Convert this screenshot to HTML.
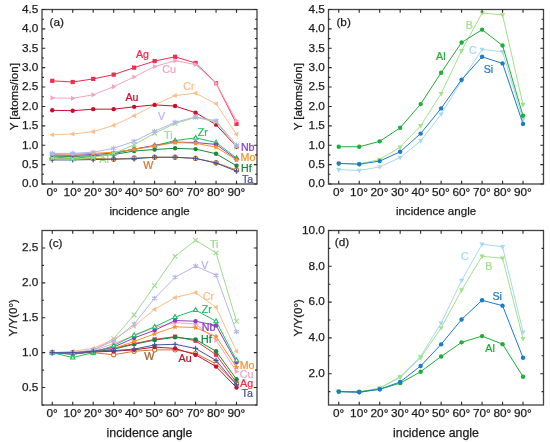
<!DOCTYPE html>
<html><head><meta charset="utf-8"><title>Sputter yield vs incidence angle</title>
<style>html,body{margin:0;padding:0;background:#fff;overflow:hidden}svg{display:block}</style>
</head><body>
<svg width="550" height="442" viewBox="0 0 550 442" font-family="'Liberation Sans', Arial, sans-serif" stroke-width="0.25"><rect width="550" height="442" fill="#fff"/>
<clipPath id="cpa"><rect x="42" y="9.5" width="215" height="174.5"/></clipPath>
<clipPath id="cpb"><rect x="328.5" y="9.5" width="215" height="174.5"/></clipPath>
<clipPath id="cpc"><rect x="42" y="230.5" width="215" height="174.5"/></clipPath>
<clipPath id="cpd"><rect x="328.5" y="230.5" width="215" height="174.5"/></clipPath>
<g>
<text transform="translate(99.3 163) scale(0.97 1)" font-size="11.0" fill="#9adc8e" stroke="#9adc8e">Al</text>
</g>
<g clip-path="url(#cpa)">
<polyline points="52.24,134.75 72.71,133.98 93.19,131.65 113.67,125.45 134.14,115.75 154.62,104.89 175.1,95.59 195.57,93.26 216.05,103.73 236.52,134.36" fill="none" stroke="#f8bf8c" stroke-width="1.0" stroke-linejoin="round"/>
<polygon points="49.36,134.75 53.96,132.16 53.96,137.34" fill="#f8bf8c"/>
<polygon points="69.84,133.98 74.44,131.39 74.44,136.56" fill="#f8bf8c"/>
<polygon points="90.32,131.65 94.92,129.06 94.92,134.24" fill="#f8bf8c"/>
<polygon points="110.79,125.45 115.39,122.86 115.39,128.03" fill="#f8bf8c"/>
<polygon points="131.27,115.75 135.87,113.16 135.87,118.34" fill="#f8bf8c"/>
<polygon points="151.74,104.89 156.34,102.31 156.34,107.48" fill="#f8bf8c"/>
<polygon points="172.22,95.59 176.82,93 176.82,98.17" fill="#f8bf8c"/>
<polygon points="192.7,93.26 197.3,90.67 197.3,95.85" fill="#f8bf8c"/>
<polygon points="213.17,103.73 217.77,101.14 217.77,106.32" fill="#f8bf8c"/>
<polygon points="233.65,134.36 238.25,131.78 238.25,136.95" fill="#f8bf8c"/>
<polyline points="52.24,158.41 72.71,158.41 93.19,158.41 113.67,159.18 134.14,158.02 154.62,157.24 175.1,157.24 195.57,158.41 216.05,162.67 236.52,170.04" fill="none" stroke="#d4762c" stroke-width="1.0" stroke-linejoin="round"/>
<circle cx="52.24" cy="158.41" r="2.1" fill="#fff" stroke="#d4762c" stroke-width="1.1"/>
<circle cx="72.71" cy="158.41" r="2.1" fill="#fff" stroke="#d4762c" stroke-width="1.1"/>
<circle cx="93.19" cy="158.41" r="2.1" fill="#fff" stroke="#d4762c" stroke-width="1.1"/>
<circle cx="113.67" cy="159.18" r="2.1" fill="#fff" stroke="#d4762c" stroke-width="1.1"/>
<circle cx="134.14" cy="158.02" r="2.1" fill="#fff" stroke="#d4762c" stroke-width="1.1"/>
<circle cx="154.62" cy="157.24" r="2.1" fill="#fff" stroke="#d4762c" stroke-width="1.1"/>
<circle cx="175.1" cy="157.24" r="2.1" fill="#fff" stroke="#d4762c" stroke-width="1.1"/>
<circle cx="195.57" cy="158.41" r="2.1" fill="#fff" stroke="#d4762c" stroke-width="1.1"/>
<circle cx="216.05" cy="162.67" r="2.1" fill="#fff" stroke="#d4762c" stroke-width="1.1"/>
<circle cx="236.52" cy="170.04" r="2.1" fill="#fff" stroke="#d4762c" stroke-width="1.1"/>
<polyline points="52.24,159.96 72.71,159.96 93.19,159.57 113.67,159.18 134.14,158.79 154.62,157.24 175.1,157.24 195.57,158.41 216.05,163.06 236.52,171.2" fill="none" stroke="#44539a" stroke-width="1.0" stroke-linejoin="round"/>
<path d="M49.64 159.96H54.84M52.24 157.36V162.56" stroke="#44539a" stroke-width="1.2"/>
<path d="M70.11 159.96H75.31M72.71 157.36V162.56" stroke="#44539a" stroke-width="1.2"/>
<path d="M90.59 159.57H95.79M93.19 156.97V162.17" stroke="#44539a" stroke-width="1.2"/>
<path d="M111.07 159.18H116.27M113.67 156.58V161.78" stroke="#44539a" stroke-width="1.2"/>
<path d="M131.54 158.79H136.74M134.14 156.19V161.39" stroke="#44539a" stroke-width="1.2"/>
<path d="M152.02 157.24H157.22M154.62 154.64V159.84" stroke="#44539a" stroke-width="1.2"/>
<path d="M172.5 157.24H177.7M175.1 154.64V159.84" stroke="#44539a" stroke-width="1.2"/>
<path d="M192.97 158.41H198.17M195.57 155.81V161.01" stroke="#44539a" stroke-width="1.2"/>
<path d="M213.45 163.06H218.65M216.05 160.46V165.66" stroke="#44539a" stroke-width="1.2"/>
<path d="M233.92 171.2H239.12M236.52 168.6V173.8" stroke="#44539a" stroke-width="1.2"/>
<polyline points="52.24,156.08 72.71,156.47 93.19,155.69 113.67,154.53 134.14,151.04 154.62,149.49 175.1,148.32 195.57,149.1 216.05,153.75 236.52,165.77" fill="none" stroke="#16893d" stroke-width="1.0" stroke-linejoin="round"/>
<circle cx="52.24" cy="156.08" r="2.2" fill="#16893d"/>
<circle cx="72.71" cy="156.47" r="2.2" fill="#16893d"/>
<circle cx="93.19" cy="155.69" r="2.2" fill="#16893d"/>
<circle cx="113.67" cy="154.53" r="2.2" fill="#16893d"/>
<circle cx="134.14" cy="151.04" r="2.2" fill="#16893d"/>
<circle cx="154.62" cy="149.49" r="2.2" fill="#16893d"/>
<circle cx="175.1" cy="148.32" r="2.2" fill="#16893d"/>
<circle cx="195.57" cy="149.1" r="2.2" fill="#16893d"/>
<circle cx="216.05" cy="153.75" r="2.2" fill="#16893d"/>
<circle cx="236.52" cy="165.77" r="2.2" fill="#16893d"/>
<polyline points="52.24,156.86 72.71,158.41 93.19,156.47 113.67,153.75 134.14,149.1 154.62,145.61 175.1,140.57 195.57,137.85 216.05,142.51 236.52,158.02" fill="none" stroke="#1fc062" stroke-width="1.0" stroke-linejoin="round"/>
<polygon points="52.24,154.44 50.06,158.3 54.41,158.3" fill="#fff" stroke="#1fc062" stroke-width="1.1"/>
<polygon points="72.71,155.99 70.54,159.86 74.89,159.86" fill="#fff" stroke="#1fc062" stroke-width="1.1"/>
<polygon points="93.19,154.05 91.02,157.92 95.36,157.92" fill="#fff" stroke="#1fc062" stroke-width="1.1"/>
<polygon points="113.67,151.34 111.49,155.2 115.84,155.2" fill="#fff" stroke="#1fc062" stroke-width="1.1"/>
<polygon points="134.14,146.69 131.97,150.55 136.32,150.55" fill="#fff" stroke="#1fc062" stroke-width="1.1"/>
<polygon points="154.62,143.2 152.45,147.06 156.79,147.06" fill="#fff" stroke="#1fc062" stroke-width="1.1"/>
<polygon points="175.1,138.15 172.92,142.02 177.27,142.02" fill="#fff" stroke="#1fc062" stroke-width="1.1"/>
<polygon points="195.57,135.44 193.4,139.3 197.74,139.3" fill="#fff" stroke="#1fc062" stroke-width="1.1"/>
<polygon points="216.05,140.09 213.87,143.96 218.22,143.96" fill="#fff" stroke="#1fc062" stroke-width="1.1"/>
<polygon points="236.52,155.6 234.35,159.47 238.7,159.47" fill="#fff" stroke="#1fc062" stroke-width="1.1"/>
<polyline points="52.24,154.92 72.71,155.3 93.19,154.53 113.67,152.98 134.14,149.1 154.62,145.61 175.1,142.12 195.57,142.51 216.05,144.45 236.52,159.18" fill="none" stroke="#8a40c2" stroke-width="1.0" stroke-linejoin="round"/>
<circle cx="52.24" cy="154.92" r="2.2" fill="#8a40c2"/>
<circle cx="72.71" cy="155.3" r="2.2" fill="#8a40c2"/>
<circle cx="93.19" cy="154.53" r="2.2" fill="#8a40c2"/>
<circle cx="113.67" cy="152.98" r="2.2" fill="#8a40c2"/>
<circle cx="134.14" cy="149.1" r="2.2" fill="#8a40c2"/>
<circle cx="154.62" cy="145.61" r="2.2" fill="#8a40c2"/>
<circle cx="175.1" cy="142.12" r="2.2" fill="#8a40c2"/>
<circle cx="195.57" cy="142.51" r="2.2" fill="#8a40c2"/>
<circle cx="216.05" cy="144.45" r="2.2" fill="#8a40c2"/>
<circle cx="236.52" cy="159.18" r="2.2" fill="#8a40c2"/>
<polyline points="52.24,153.75 72.71,154.14 93.19,153.37 113.67,152.2 134.14,149.49 154.62,146 175.1,142.51 195.57,143.28 216.05,147.16 236.52,159.96" fill="none" stroke="#f7922c" stroke-width="1.0" stroke-linejoin="round"/>
<polygon points="52.24,150.65 53.06,152.62 55.19,152.79 53.57,154.19 54.06,156.27 52.24,155.15 50.41,156.27 50.91,154.19 49.29,152.79 51.42,152.62" fill="#f7922c"/>
<polygon points="72.71,151.04 73.54,153.01 75.67,153.18 74.04,154.57 74.54,156.65 72.71,155.54 70.89,156.65 71.39,154.57 69.76,153.18 71.89,153.01" fill="#f7922c"/>
<polygon points="93.19,150.26 94.01,152.24 96.14,152.41 94.52,153.8 95.02,155.88 93.19,154.76 91.37,155.88 91.86,153.8 90.24,152.41 92.37,152.24" fill="#f7922c"/>
<polygon points="113.67,149.1 114.49,151.07 116.62,151.24 115,152.63 115.49,154.71 113.67,153.6 111.84,154.71 112.34,152.63 110.71,151.24 112.85,151.07" fill="#f7922c"/>
<polygon points="134.14,146.38 134.96,148.36 137.1,148.53 135.47,149.92 135.97,152 134.14,150.89 132.32,152 132.81,149.92 131.19,148.53 133.32,148.36" fill="#f7922c"/>
<polygon points="154.62,142.89 155.44,144.87 157.57,145.04 155.95,146.43 156.44,148.51 154.62,147.4 152.79,148.51 153.29,146.43 151.67,145.04 153.8,144.87" fill="#f7922c"/>
<polygon points="175.1,139.4 175.92,141.38 178.05,141.55 176.42,142.94 176.92,145.02 175.1,143.91 173.27,145.02 173.77,142.94 172.14,141.55 174.27,141.38" fill="#f7922c"/>
<polygon points="195.57,140.18 196.39,142.15 198.52,142.32 196.9,143.72 197.4,145.8 195.57,144.68 193.75,145.8 194.24,143.72 192.62,142.32 194.75,142.15" fill="#f7922c"/>
<polygon points="216.05,144.06 216.87,146.03 219,146.2 217.38,147.59 217.87,149.67 216.05,148.56 214.22,149.67 214.72,147.59 213.09,146.2 215.23,146.03" fill="#f7922c"/>
<polygon points="236.52,156.85 237.35,158.83 239.48,159 237.85,160.39 238.35,162.47 236.52,161.36 234.7,162.47 235.19,160.39 233.57,159 235.7,158.83" fill="#f7922c"/>
<polyline points="52.24,110.32 72.71,110.71 93.19,109.16 113.67,109.16 134.14,106.83 154.62,104.89 175.1,106.06 195.57,112.65 216.05,124.67 236.52,146.77" fill="none" stroke="#c8102e" stroke-width="1.0" stroke-linejoin="round"/>
<circle cx="52.24" cy="110.32" r="2.2" fill="#c8102e"/>
<circle cx="72.71" cy="110.71" r="2.2" fill="#c8102e"/>
<circle cx="93.19" cy="109.16" r="2.2" fill="#c8102e"/>
<circle cx="113.67" cy="109.16" r="2.2" fill="#c8102e"/>
<circle cx="134.14" cy="106.83" r="2.2" fill="#c8102e"/>
<circle cx="154.62" cy="104.89" r="2.2" fill="#c8102e"/>
<circle cx="175.1" cy="106.06" r="2.2" fill="#c8102e"/>
<circle cx="195.57" cy="112.65" r="2.2" fill="#c8102e"/>
<circle cx="216.05" cy="124.67" r="2.2" fill="#c8102e"/>
<circle cx="236.52" cy="146.77" r="2.2" fill="#c8102e"/>
<polyline points="52.24,158.41 72.71,159.18 93.19,157.63 113.67,153.37 134.14,144.83 154.62,133.2 175.1,123.51 195.57,117.3 216.05,121.96 236.52,146.77" fill="none" stroke="#9adc8e" stroke-width="1.0" stroke-linejoin="round"/>
<path d="M49.94 156.11L54.54 160.71M49.94 160.71L54.54 156.11" stroke="#9adc8e" stroke-width="1.1"/>
<path d="M70.41 156.88L75.01 161.48M70.41 161.48L75.01 156.88" stroke="#9adc8e" stroke-width="1.1"/>
<path d="M90.89 155.33L95.49 159.93M90.89 159.93L95.49 155.33" stroke="#9adc8e" stroke-width="1.1"/>
<path d="M111.37 151.07L115.97 155.67M111.37 155.67L115.97 151.07" stroke="#9adc8e" stroke-width="1.1"/>
<path d="M131.84 142.53L136.44 147.13M131.84 147.13L136.44 142.53" stroke="#9adc8e" stroke-width="1.1"/>
<path d="M152.32 130.9L156.92 135.5M152.32 135.5L156.92 130.9" stroke="#9adc8e" stroke-width="1.1"/>
<path d="M172.8 121.21L177.4 125.81M172.8 125.81L177.4 121.21" stroke="#9adc8e" stroke-width="1.1"/>
<path d="M193.27 115L197.87 119.6M193.27 119.6L197.87 115" stroke="#9adc8e" stroke-width="1.1"/>
<path d="M213.75 119.66L218.35 124.26M213.75 124.26L218.35 119.66" stroke="#9adc8e" stroke-width="1.1"/>
<path d="M234.22 144.47L238.82 149.07M234.22 149.07L238.82 144.47" stroke="#9adc8e" stroke-width="1.1"/>
<polyline points="52.24,153.37 72.71,153.37 93.19,152.2 113.67,148.32 134.14,141.34 154.62,131.26 175.1,122.34 195.57,116.91 216.05,120.79 236.52,145.22" fill="none" stroke="#b3b6ee" stroke-width="1.0" stroke-linejoin="round"/>
<path d="M49.74 151.87L54.74 154.87M49.74 154.87L54.74 151.87M52.24 150.87V155.87" stroke="#b3b6ee" stroke-width="1.2"/>
<path d="M70.21 151.87L75.21 154.87M70.21 154.87L75.21 151.87M72.71 150.87V155.87" stroke="#b3b6ee" stroke-width="1.2"/>
<path d="M90.69 150.7L95.69 153.7M90.69 153.7L95.69 150.7M93.19 149.7V154.7" stroke="#b3b6ee" stroke-width="1.2"/>
<path d="M111.17 146.82L116.17 149.82M111.17 149.82L116.17 146.82M113.67 145.82V150.82" stroke="#b3b6ee" stroke-width="1.2"/>
<path d="M131.64 139.84L136.64 142.84M131.64 142.84L136.64 139.84M134.14 138.84V143.84" stroke="#b3b6ee" stroke-width="1.2"/>
<path d="M152.12 129.76L157.12 132.76M152.12 132.76L157.12 129.76M154.62 128.76V133.76" stroke="#b3b6ee" stroke-width="1.2"/>
<path d="M172.6 120.84L177.6 123.84M172.6 123.84L177.6 120.84M175.1 119.84V124.84" stroke="#b3b6ee" stroke-width="1.2"/>
<path d="M193.07 115.41L198.07 118.41M193.07 118.41L198.07 115.41M195.57 114.41V119.41" stroke="#b3b6ee" stroke-width="1.2"/>
<path d="M213.55 119.29L218.55 122.29M213.55 122.29L218.55 119.29M216.05 118.29V123.29" stroke="#b3b6ee" stroke-width="1.2"/>
<path d="M234.02 143.72L239.02 146.72M234.02 146.72L239.02 143.72M236.52 142.72V147.72" stroke="#b3b6ee" stroke-width="1.2"/>
<polyline points="52.24,80.85 72.71,82.01 93.19,78.91 113.67,74.65 134.14,67.67 154.62,61.07 175.1,56.81 195.57,63.01 216.05,83.18 236.52,123.89" fill="none" stroke="#f42a4e" stroke-width="1.0" stroke-linejoin="round"/>
<rect x="50.14" y="78.75" width="4.2" height="4.2" fill="#f42a4e"/>
<rect x="70.61" y="79.91" width="4.2" height="4.2" fill="#f42a4e"/>
<rect x="91.09" y="76.81" width="4.2" height="4.2" fill="#f42a4e"/>
<rect x="111.57" y="72.55" width="4.2" height="4.2" fill="#f42a4e"/>
<rect x="132.04" y="65.57" width="4.2" height="4.2" fill="#f42a4e"/>
<rect x="152.52" y="58.97" width="4.2" height="4.2" fill="#f42a4e"/>
<rect x="173" y="54.71" width="4.2" height="4.2" fill="#f42a4e"/>
<rect x="193.47" y="60.91" width="4.2" height="4.2" fill="#f42a4e"/>
<rect x="213.95" y="81.08" width="4.2" height="4.2" fill="#f42a4e"/>
<rect x="234.42" y="121.79" width="4.2" height="4.2" fill="#f42a4e"/>
<polyline points="52.24,97.91 72.71,98.3 93.19,94.81 113.67,86.67 134.14,76.97 154.62,66.5 175.1,60.69 195.57,64.56 216.05,83.18 236.52,120.79" fill="none" stroke="#f7a3bf" stroke-width="1.0" stroke-linejoin="round"/>
<polygon points="55.11,97.91 50.51,95.33 50.51,100.5" fill="#f7a3bf"/>
<polygon points="75.59,98.3 70.99,95.71 70.99,100.89" fill="#f7a3bf"/>
<polygon points="96.07,94.81 91.47,92.22 91.47,97.4" fill="#f7a3bf"/>
<polygon points="116.54,86.67 111.94,84.08 111.94,89.26" fill="#f7a3bf"/>
<polygon points="137.02,76.97 132.42,74.39 132.42,79.56" fill="#f7a3bf"/>
<polygon points="157.49,66.5 152.89,63.92 152.89,69.09" fill="#f7a3bf"/>
<polygon points="177.97,60.69 173.37,58.1 173.37,63.27" fill="#f7a3bf"/>
<polygon points="198.45,64.56 193.85,61.98 193.85,67.15" fill="#f7a3bf"/>
<polygon points="218.92,83.18 214.32,80.59 214.32,85.77" fill="#f7a3bf"/>
<polygon points="239.4,120.79 234.8,118.2 234.8,123.38" fill="#f7a3bf"/>
</g>
<g clip-path="url(#cpc)">
<polyline points="52.24,352.65 72.71,354.74 93.19,350.56 113.67,338.69 134.14,314.96 154.62,285.64 175.1,256.33 195.57,240.27 216.05,252.84 236.52,321.24" fill="none" stroke="#9adc8e" stroke-width="1.0" stroke-linejoin="round"/>
<path d="M49.94 350.35L54.54 354.95M49.94 354.95L54.54 350.35" stroke="#9adc8e" stroke-width="1.1"/>
<path d="M70.41 352.44L75.01 357.04M70.41 357.04L75.01 352.44" stroke="#9adc8e" stroke-width="1.1"/>
<path d="M90.89 348.26L95.49 352.86M90.89 352.86L95.49 348.26" stroke="#9adc8e" stroke-width="1.1"/>
<path d="M111.37 336.39L115.97 340.99M111.37 340.99L115.97 336.39" stroke="#9adc8e" stroke-width="1.1"/>
<path d="M131.84 312.66L136.44 317.26M131.84 317.26L136.44 312.66" stroke="#9adc8e" stroke-width="1.1"/>
<path d="M152.32 283.34L156.92 287.94M152.32 287.94L156.92 283.34" stroke="#9adc8e" stroke-width="1.1"/>
<path d="M172.8 254.03L177.4 258.63M172.8 258.63L177.4 254.03" stroke="#9adc8e" stroke-width="1.1"/>
<path d="M193.27 237.97L197.87 242.57M193.27 242.57L197.87 237.97" stroke="#9adc8e" stroke-width="1.1"/>
<path d="M213.75 250.54L218.35 255.14M213.75 255.14L218.35 250.54" stroke="#9adc8e" stroke-width="1.1"/>
<path d="M234.22 318.94L238.82 323.54M234.22 323.54L238.82 318.94" stroke="#9adc8e" stroke-width="1.1"/>
<polyline points="52.24,352.65 72.71,351.25 93.19,348.46 113.67,339.39 134.14,326.13 154.62,309.37 175.1,297.51 195.57,292.62 216.05,307.28 236.52,351.25" fill="none" stroke="#f8bf8c" stroke-width="1.0" stroke-linejoin="round"/>
<polygon points="49.36,352.65 53.96,350.06 53.96,355.24" fill="#f8bf8c"/>
<polygon points="69.84,351.25 74.44,348.67 74.44,353.84" fill="#f8bf8c"/>
<polygon points="90.32,348.46 94.92,345.87 94.92,351.05" fill="#f8bf8c"/>
<polygon points="110.79,339.39 115.39,336.8 115.39,341.98" fill="#f8bf8c"/>
<polygon points="131.27,326.13 135.87,323.54 135.87,328.71" fill="#f8bf8c"/>
<polygon points="151.74,309.37 156.34,306.79 156.34,311.96" fill="#f8bf8c"/>
<polygon points="172.22,297.51 176.82,294.92 176.82,300.1" fill="#f8bf8c"/>
<polygon points="192.7,292.62 197.3,290.03 197.3,295.21" fill="#f8bf8c"/>
<polygon points="213.17,307.28 217.77,304.69 217.77,309.87" fill="#f8bf8c"/>
<polygon points="233.65,351.25 238.25,348.67 238.25,353.84" fill="#f8bf8c"/>
<polyline points="52.24,352.65 72.71,353.35 93.19,351.25 113.67,348.46 134.14,343.58 154.62,339.39 175.1,336.6 195.57,340.78 216.05,354.74 236.52,382.66" fill="none" stroke="#f42a4e" stroke-width="1.0" stroke-linejoin="round"/>
<rect x="50.14" y="350.55" width="4.2" height="4.2" fill="#f42a4e"/>
<rect x="70.61" y="351.25" width="4.2" height="4.2" fill="#f42a4e"/>
<rect x="91.09" y="349.15" width="4.2" height="4.2" fill="#f42a4e"/>
<rect x="111.57" y="346.36" width="4.2" height="4.2" fill="#f42a4e"/>
<rect x="132.04" y="341.48" width="4.2" height="4.2" fill="#f42a4e"/>
<rect x="152.52" y="337.29" width="4.2" height="4.2" fill="#f42a4e"/>
<rect x="173" y="334.5" width="4.2" height="4.2" fill="#f42a4e"/>
<rect x="193.47" y="338.68" width="4.2" height="4.2" fill="#f42a4e"/>
<rect x="213.95" y="352.64" width="4.2" height="4.2" fill="#f42a4e"/>
<rect x="234.42" y="380.56" width="4.2" height="4.2" fill="#f42a4e"/>
<polyline points="52.24,352.65 72.71,353.35 93.19,350.56 113.67,343.58 134.14,335.9 154.62,327.52 175.1,322.64 195.57,324.03 216.05,340.09 236.52,371.5" fill="none" stroke="#f7a3bf" stroke-width="1.0" stroke-linejoin="round"/>
<polygon points="55.11,352.65 50.51,350.06 50.51,355.24" fill="#f7a3bf"/>
<polygon points="75.59,353.35 70.99,350.76 70.99,355.94" fill="#f7a3bf"/>
<polygon points="96.07,350.56 91.47,347.97 91.47,353.14" fill="#f7a3bf"/>
<polygon points="116.54,343.58 111.94,340.99 111.94,346.16" fill="#f7a3bf"/>
<polygon points="137.02,335.9 132.42,333.31 132.42,338.49" fill="#f7a3bf"/>
<polygon points="157.49,327.52 152.89,324.93 152.89,330.11" fill="#f7a3bf"/>
<polygon points="177.97,322.64 173.37,320.05 173.37,325.22" fill="#f7a3bf"/>
<polygon points="198.45,324.03 193.85,321.44 193.85,326.62" fill="#f7a3bf"/>
<polygon points="218.92,340.09 214.32,337.5 214.32,342.67" fill="#f7a3bf"/>
<polygon points="239.4,371.5 234.8,368.91 234.8,374.08" fill="#f7a3bf"/>
<polyline points="52.24,352.65 72.71,352.65 93.19,352.65 113.67,354.74 134.14,351.25 154.62,349.86 175.1,349.86 195.57,353.35 216.05,363.82 236.52,384.06" fill="none" stroke="#d4762c" stroke-width="1.0" stroke-linejoin="round"/>
<circle cx="52.24" cy="352.65" r="2.1" fill="#fff" stroke="#d4762c" stroke-width="1.1"/>
<circle cx="72.71" cy="352.65" r="2.1" fill="#fff" stroke="#d4762c" stroke-width="1.1"/>
<circle cx="93.19" cy="352.65" r="2.1" fill="#fff" stroke="#d4762c" stroke-width="1.1"/>
<circle cx="113.67" cy="354.74" r="2.1" fill="#fff" stroke="#d4762c" stroke-width="1.1"/>
<circle cx="134.14" cy="351.25" r="2.1" fill="#fff" stroke="#d4762c" stroke-width="1.1"/>
<circle cx="154.62" cy="349.86" r="2.1" fill="#fff" stroke="#d4762c" stroke-width="1.1"/>
<circle cx="175.1" cy="349.86" r="2.1" fill="#fff" stroke="#d4762c" stroke-width="1.1"/>
<circle cx="195.57" cy="353.35" r="2.1" fill="#fff" stroke="#d4762c" stroke-width="1.1"/>
<circle cx="216.05" cy="363.82" r="2.1" fill="#fff" stroke="#d4762c" stroke-width="1.1"/>
<circle cx="236.52" cy="384.06" r="2.1" fill="#fff" stroke="#d4762c" stroke-width="1.1"/>
<polyline points="52.24,352.65 72.71,353.35 93.19,351.95 113.67,351.25 134.14,349.86 154.62,347.07 175.1,348.46 195.57,354.74 216.05,366.61 236.52,387.55" fill="none" stroke="#c8102e" stroke-width="1.0" stroke-linejoin="round"/>
<circle cx="52.24" cy="352.65" r="2.2" fill="#c8102e"/>
<circle cx="72.71" cy="353.35" r="2.2" fill="#c8102e"/>
<circle cx="93.19" cy="351.95" r="2.2" fill="#c8102e"/>
<circle cx="113.67" cy="351.25" r="2.2" fill="#c8102e"/>
<circle cx="134.14" cy="349.86" r="2.2" fill="#c8102e"/>
<circle cx="154.62" cy="347.07" r="2.2" fill="#c8102e"/>
<circle cx="175.1" cy="348.46" r="2.2" fill="#c8102e"/>
<circle cx="195.57" cy="354.74" r="2.2" fill="#c8102e"/>
<circle cx="216.05" cy="366.61" r="2.2" fill="#c8102e"/>
<circle cx="236.52" cy="387.55" r="2.2" fill="#c8102e"/>
<polyline points="52.24,352.65 72.71,354.05 93.19,351.95 113.67,349.16 134.14,344.27 154.62,340.09 175.1,337.29 195.57,339.39 216.05,351.25 236.52,379.17" fill="none" stroke="#16893d" stroke-width="1.0" stroke-linejoin="round"/>
<circle cx="52.24" cy="352.65" r="2.2" fill="#16893d"/>
<circle cx="72.71" cy="354.05" r="2.2" fill="#16893d"/>
<circle cx="93.19" cy="351.95" r="2.2" fill="#16893d"/>
<circle cx="113.67" cy="349.16" r="2.2" fill="#16893d"/>
<circle cx="134.14" cy="344.27" r="2.2" fill="#16893d"/>
<circle cx="154.62" cy="340.09" r="2.2" fill="#16893d"/>
<circle cx="175.1" cy="337.29" r="2.2" fill="#16893d"/>
<circle cx="195.57" cy="339.39" r="2.2" fill="#16893d"/>
<circle cx="216.05" cy="351.25" r="2.2" fill="#16893d"/>
<circle cx="236.52" cy="379.17" r="2.2" fill="#16893d"/>
<polyline points="52.24,352.65 72.71,353.35 93.19,351.25 113.67,348.46 134.14,341.48 154.62,333.8 175.1,326.82 195.57,327.52 216.05,336.6 236.52,367.31" fill="none" stroke="#f7922c" stroke-width="1.0" stroke-linejoin="round"/>
<polygon points="52.24,349.54 53.06,351.52 55.19,351.69 53.57,353.08 54.06,355.16 52.24,354.05 50.41,355.16 50.91,353.08 49.29,351.69 51.42,351.52" fill="#f7922c"/>
<polygon points="72.71,350.24 73.54,352.22 75.67,352.39 74.04,353.78 74.54,355.86 72.71,354.75 70.89,355.86 71.39,353.78 69.76,352.39 71.89,352.22" fill="#f7922c"/>
<polygon points="93.19,348.15 94.01,350.12 96.14,350.29 94.52,351.69 95.02,353.77 93.19,352.65 91.37,353.77 91.86,351.69 90.24,350.29 92.37,350.12" fill="#f7922c"/>
<polygon points="113.67,345.36 114.49,347.33 116.62,347.5 115,348.89 115.49,350.97 113.67,349.86 111.84,350.97 112.34,348.89 110.71,347.5 112.85,347.33" fill="#f7922c"/>
<polygon points="134.14,338.38 134.96,340.35 137.1,340.52 135.47,341.91 135.97,343.99 134.14,342.88 132.32,343.99 132.81,341.91 131.19,340.52 133.32,340.35" fill="#f7922c"/>
<polygon points="154.62,330.7 155.44,332.67 157.57,332.84 155.95,334.24 156.44,336.32 154.62,335.2 152.79,336.32 153.29,334.24 151.67,332.84 153.8,332.67" fill="#f7922c"/>
<polygon points="175.1,323.72 175.92,325.69 178.05,325.86 176.42,327.26 176.92,329.34 175.1,328.22 173.27,329.34 173.77,327.26 172.14,325.86 174.27,325.69" fill="#f7922c"/>
<polygon points="195.57,324.42 196.39,326.39 198.52,326.56 196.9,327.95 197.4,330.03 195.57,328.92 193.75,330.03 194.24,327.95 192.62,326.56 194.75,326.39" fill="#f7922c"/>
<polygon points="216.05,333.49 216.87,335.47 219,335.64 217.38,337.03 217.87,339.11 216.05,337.99 214.22,339.11 214.72,337.03 213.09,335.64 215.23,335.47" fill="#f7922c"/>
<polygon points="236.52,364.2 237.35,366.18 239.48,366.35 237.85,367.74 238.35,369.82 236.52,368.71 234.7,369.82 235.19,367.74 233.57,366.35 235.7,366.18" fill="#f7922c"/>
<polyline points="52.24,352.65 72.71,354.05 93.19,351.25 113.67,347.07 134.14,337.99 154.62,330.31 175.1,320.54 195.57,321.24 216.05,325.43 236.52,362.42" fill="none" stroke="#8a40c2" stroke-width="1.0" stroke-linejoin="round"/>
<circle cx="52.24" cy="352.65" r="2.2" fill="#8a40c2"/>
<circle cx="72.71" cy="354.05" r="2.2" fill="#8a40c2"/>
<circle cx="93.19" cy="351.25" r="2.2" fill="#8a40c2"/>
<circle cx="113.67" cy="347.07" r="2.2" fill="#8a40c2"/>
<circle cx="134.14" cy="337.99" r="2.2" fill="#8a40c2"/>
<circle cx="154.62" cy="330.31" r="2.2" fill="#8a40c2"/>
<circle cx="175.1" cy="320.54" r="2.2" fill="#8a40c2"/>
<circle cx="195.57" cy="321.24" r="2.2" fill="#8a40c2"/>
<circle cx="216.05" cy="325.43" r="2.2" fill="#8a40c2"/>
<circle cx="236.52" cy="362.42" r="2.2" fill="#8a40c2"/>
<polyline points="52.24,352.65 72.71,357.54 93.19,352.65 113.67,345.67 134.14,335.2 154.62,326.82 175.1,317.05 195.57,310.07 216.05,321.24 236.52,360.33" fill="none" stroke="#1fc062" stroke-width="1.0" stroke-linejoin="round"/>
<polygon points="52.24,350.23 50.06,354.1 54.41,354.1" fill="#fff" stroke="#1fc062" stroke-width="1.1"/>
<polygon points="72.71,355.12 70.54,358.99 74.89,358.99" fill="#fff" stroke="#1fc062" stroke-width="1.1"/>
<polygon points="93.19,350.23 91.02,354.1 95.36,354.1" fill="#fff" stroke="#1fc062" stroke-width="1.1"/>
<polygon points="113.67,343.25 111.49,347.12 115.84,347.12" fill="#fff" stroke="#1fc062" stroke-width="1.1"/>
<polygon points="134.14,332.78 131.97,336.65 136.32,336.65" fill="#fff" stroke="#1fc062" stroke-width="1.1"/>
<polygon points="154.62,324.41 152.45,328.27 156.79,328.27" fill="#fff" stroke="#1fc062" stroke-width="1.1"/>
<polygon points="175.1,314.64 172.92,318.5 177.27,318.5" fill="#fff" stroke="#1fc062" stroke-width="1.1"/>
<polygon points="195.57,307.66 193.4,311.52 197.74,311.52" fill="#fff" stroke="#1fc062" stroke-width="1.1"/>
<polygon points="216.05,318.82 213.87,322.69 218.22,322.69" fill="#fff" stroke="#1fc062" stroke-width="1.1"/>
<polygon points="236.52,357.91 234.35,361.78 238.7,361.78" fill="#fff" stroke="#1fc062" stroke-width="1.1"/>
<polyline points="52.24,352.65 72.71,352.65 93.19,349.86 113.67,340.78 134.14,324.03 154.62,298.21 175.1,277.27 195.57,266.1 216.05,275.17 236.52,331.71" fill="none" stroke="#b3b6ee" stroke-width="1.0" stroke-linejoin="round"/>
<path d="M49.74 351.15L54.74 354.15M49.74 354.15L54.74 351.15M52.24 350.15V355.15" stroke="#b3b6ee" stroke-width="1.2"/>
<path d="M70.21 351.15L75.21 354.15M70.21 354.15L75.21 351.15M72.71 350.15V355.15" stroke="#b3b6ee" stroke-width="1.2"/>
<path d="M90.69 348.36L95.69 351.36M90.69 351.36L95.69 348.36M93.19 347.36V352.36" stroke="#b3b6ee" stroke-width="1.2"/>
<path d="M111.17 339.28L116.17 342.28M111.17 342.28L116.17 339.28M113.67 338.28V343.28" stroke="#b3b6ee" stroke-width="1.2"/>
<path d="M131.64 322.53L136.64 325.53M131.64 325.53L136.64 322.53M134.14 321.53V326.53" stroke="#b3b6ee" stroke-width="1.2"/>
<path d="M152.12 296.71L157.12 299.71M152.12 299.71L157.12 296.71M154.62 295.71V300.71" stroke="#b3b6ee" stroke-width="1.2"/>
<path d="M172.6 275.77L177.6 278.77M172.6 278.77L177.6 275.77M175.1 274.77V279.77" stroke="#b3b6ee" stroke-width="1.2"/>
<path d="M193.07 264.6L198.07 267.6M193.07 267.6L198.07 264.6M195.57 263.6V268.6" stroke="#b3b6ee" stroke-width="1.2"/>
<path d="M213.55 273.67L218.55 276.67M213.55 276.67L218.55 273.67M216.05 272.67V277.67" stroke="#b3b6ee" stroke-width="1.2"/>
<path d="M234.02 330.21L239.02 333.21M234.02 333.21L239.02 330.21M236.52 329.21V334.21" stroke="#b3b6ee" stroke-width="1.2"/>
<polyline points="52.24,352.65 72.71,352.65 93.19,351.25 113.67,350.56 134.14,349.16 154.62,344.97 175.1,344.27 195.57,348.46 216.05,360.33 236.52,384.76" fill="none" stroke="#44539a" stroke-width="1.0" stroke-linejoin="round"/>
<path d="M49.64 352.65H54.84M52.24 350.05V355.25" stroke="#44539a" stroke-width="1.2"/>
<path d="M70.11 352.65H75.31M72.71 350.05V355.25" stroke="#44539a" stroke-width="1.2"/>
<path d="M90.59 351.25H95.79M93.19 348.65V353.85" stroke="#44539a" stroke-width="1.2"/>
<path d="M111.07 350.56H116.27M113.67 347.96V353.16" stroke="#44539a" stroke-width="1.2"/>
<path d="M131.54 349.16H136.74M134.14 346.56V351.76" stroke="#44539a" stroke-width="1.2"/>
<path d="M152.02 344.97H157.22M154.62 342.37V347.57" stroke="#44539a" stroke-width="1.2"/>
<path d="M172.5 344.27H177.7M175.1 341.67V346.87" stroke="#44539a" stroke-width="1.2"/>
<path d="M192.97 348.46H198.17M195.57 345.86V351.06" stroke="#44539a" stroke-width="1.2"/>
<path d="M213.45 360.33H218.65M216.05 357.73V362.93" stroke="#44539a" stroke-width="1.2"/>
<path d="M233.92 384.76H239.12M236.52 382.16V387.36" stroke="#44539a" stroke-width="1.2"/>
</g>
<g clip-path="url(#cpb)">
<polyline points="338.74,169.65 359.21,170.43 379.69,166.94 400.17,157.63 420.64,140.96 441.12,114.2 461.6,80.85 482.07,49.44 502.55,51.77 523.02,119.63" fill="none" stroke="#a5d8f2" stroke-width="1.0" stroke-linejoin="round"/>
<polygon points="338.74,172.53 336.15,167.93 341.33,167.93" fill="#a5d8f2"/>
<polygon points="359.21,173.3 356.63,168.7 361.8,168.7" fill="#a5d8f2"/>
<polygon points="379.69,169.81 377.1,165.21 382.28,165.21" fill="#a5d8f2"/>
<polygon points="400.17,160.51 397.58,155.91 402.75,155.91" fill="#a5d8f2"/>
<polygon points="420.64,143.83 418.06,139.23 423.23,139.23" fill="#a5d8f2"/>
<polygon points="441.12,117.08 438.53,112.48 443.71,112.48" fill="#a5d8f2"/>
<polygon points="461.6,83.73 459.01,79.13 464.18,79.13" fill="#a5d8f2"/>
<polygon points="482.07,52.32 479.48,47.72 484.66,47.72" fill="#a5d8f2"/>
<polygon points="502.55,54.64 499.96,50.04 505.14,50.04" fill="#a5d8f2"/>
<polygon points="523.02,122.5 520.44,117.9 525.61,117.9" fill="#a5d8f2"/>
<polyline points="338.74,163.45 359.21,163.84 379.69,159.57 400.17,147.16 420.64,125.83 441.12,93.65 461.6,50.6 482.07,12.99 502.55,14.93 523.02,104.51" fill="none" stroke="#a3e08c" stroke-width="1.0" stroke-linejoin="round"/>
<polygon points="338.74,166.32 336.15,161.72 341.33,161.72" fill="#a3e08c"/>
<polygon points="359.21,166.71 356.63,162.11 361.8,162.11" fill="#a3e08c"/>
<polygon points="379.69,162.44 377.1,157.84 382.28,157.84" fill="#a3e08c"/>
<polygon points="400.17,150.04 397.58,145.44 402.75,145.44" fill="#a3e08c"/>
<polygon points="420.64,128.71 418.06,124.11 423.23,124.11" fill="#a3e08c"/>
<polygon points="441.12,96.52 438.53,91.92 443.71,91.92" fill="#a3e08c"/>
<polygon points="461.6,53.48 459.01,48.88 464.18,48.88" fill="#a3e08c"/>
<polygon points="482.07,15.87 479.48,11.27 484.66,11.27" fill="#a3e08c"/>
<polygon points="502.55,17.8 499.96,13.2 505.14,13.2" fill="#a3e08c"/>
<polygon points="523.02,107.38 520.44,102.78 525.61,102.78" fill="#a3e08c"/>
<polyline points="338.74,146.77 359.21,146.77 379.69,141.34 400.17,127.77 420.64,104.12 441.12,72.71 461.6,42.46 482.07,29.66 502.55,45.56 523.02,115.75" fill="none" stroke="#1fae3a" stroke-width="1.0" stroke-linejoin="round"/>
<circle cx="338.74" cy="146.77" r="2.2" fill="#1fae3a"/>
<circle cx="359.21" cy="146.77" r="2.2" fill="#1fae3a"/>
<circle cx="379.69" cy="141.34" r="2.2" fill="#1fae3a"/>
<circle cx="400.17" cy="127.77" r="2.2" fill="#1fae3a"/>
<circle cx="420.64" cy="104.12" r="2.2" fill="#1fae3a"/>
<circle cx="441.12" cy="72.71" r="2.2" fill="#1fae3a"/>
<circle cx="461.6" cy="42.46" r="2.2" fill="#1fae3a"/>
<circle cx="482.07" cy="29.66" r="2.2" fill="#1fae3a"/>
<circle cx="502.55" cy="45.56" r="2.2" fill="#1fae3a"/>
<circle cx="523.02" cy="115.75" r="2.2" fill="#1fae3a"/>
<polyline points="338.74,163.45 359.21,164.22 379.69,161.12 400.17,151.81 420.64,133.59 441.12,108.38 461.6,79.69 482.07,56.81 502.55,63.4 523.02,123.89" fill="none" stroke="#1a7cc6" stroke-width="1.0" stroke-linejoin="round"/>
<circle cx="338.74" cy="163.45" r="2.2" fill="#1a7cc6"/>
<circle cx="359.21" cy="164.22" r="2.2" fill="#1a7cc6"/>
<circle cx="379.69" cy="161.12" r="2.2" fill="#1a7cc6"/>
<circle cx="400.17" cy="151.81" r="2.2" fill="#1a7cc6"/>
<circle cx="420.64" cy="133.59" r="2.2" fill="#1a7cc6"/>
<circle cx="441.12" cy="108.38" r="2.2" fill="#1a7cc6"/>
<circle cx="461.6" cy="79.69" r="2.2" fill="#1a7cc6"/>
<circle cx="482.07" cy="56.81" r="2.2" fill="#1a7cc6"/>
<circle cx="502.55" cy="63.4" r="2.2" fill="#1a7cc6"/>
<circle cx="523.02" cy="123.89" r="2.2" fill="#1a7cc6"/>
</g>
<g clip-path="url(#cpd)">
<polyline points="338.74,391.58 359.21,392.47 379.69,388.18 400.17,376.54 420.64,356.5 441.12,323.21 461.6,280.43 482.07,244.28 502.55,246.79 523.02,332.16" fill="none" stroke="#a5d8f2" stroke-width="1.0" stroke-linejoin="round"/>
<polygon points="338.74,394.45 336.15,389.85 341.33,389.85" fill="#a5d8f2"/>
<polygon points="359.21,395.35 356.63,390.75 361.8,390.75" fill="#a5d8f2"/>
<polygon points="379.69,391.05 377.1,386.45 382.28,386.45" fill="#a5d8f2"/>
<polygon points="400.17,379.42 397.58,374.82 402.75,374.82" fill="#a5d8f2"/>
<polygon points="420.64,359.37 418.06,354.77 423.23,354.77" fill="#a5d8f2"/>
<polygon points="441.12,326.08 438.53,321.48 443.71,321.48" fill="#a5d8f2"/>
<polygon points="461.6,283.31 459.01,278.71 464.18,278.71" fill="#a5d8f2"/>
<polygon points="482.07,247.16 479.48,242.56 484.66,242.56" fill="#a5d8f2"/>
<polygon points="502.55,249.66 499.96,245.06 505.14,245.06" fill="#a5d8f2"/>
<polygon points="523.02,335.03 520.44,330.43 525.61,330.43" fill="#a5d8f2"/>
<polyline points="338.74,391.58 359.21,391.93 379.69,388.18 400.17,377.44 420.64,357.75 441.12,327.86 461.6,290.1 482.07,256.27 502.55,258.24 523.02,338.6" fill="none" stroke="#a3e08c" stroke-width="1.0" stroke-linejoin="round"/>
<polygon points="338.74,394.45 336.15,389.85 341.33,389.85" fill="#a3e08c"/>
<polygon points="359.21,394.81 356.63,390.21 361.8,390.21" fill="#a3e08c"/>
<polygon points="379.69,391.05 377.1,386.45 382.28,386.45" fill="#a3e08c"/>
<polygon points="400.17,380.31 397.58,375.71 402.75,375.71" fill="#a3e08c"/>
<polygon points="420.64,360.63 418.06,356.03 423.23,356.03" fill="#a3e08c"/>
<polygon points="441.12,330.74 438.53,326.14 443.71,326.14" fill="#a3e08c"/>
<polygon points="461.6,292.97 459.01,288.37 464.18,288.37" fill="#a3e08c"/>
<polygon points="482.07,259.15 479.48,254.55 484.66,254.55" fill="#a3e08c"/>
<polygon points="502.55,261.12 499.96,256.52 505.14,256.52" fill="#a3e08c"/>
<polygon points="523.02,341.48 520.44,336.88 525.61,336.88" fill="#a3e08c"/>
<polyline points="338.74,391.58 359.21,391.76 379.69,389.25 400.17,383.17 420.64,371.71 441.12,356.5 461.6,342.36 482.07,336.09 502.55,344.15 523.02,376.72" fill="none" stroke="#1fae3a" stroke-width="1.0" stroke-linejoin="round"/>
<circle cx="338.74" cy="391.58" r="2.2" fill="#1fae3a"/>
<circle cx="359.21" cy="391.76" r="2.2" fill="#1fae3a"/>
<circle cx="379.69" cy="389.25" r="2.2" fill="#1fae3a"/>
<circle cx="400.17" cy="383.17" r="2.2" fill="#1fae3a"/>
<circle cx="420.64" cy="371.71" r="2.2" fill="#1fae3a"/>
<circle cx="441.12" cy="356.5" r="2.2" fill="#1fae3a"/>
<circle cx="461.6" cy="342.36" r="2.2" fill="#1fae3a"/>
<circle cx="482.07" cy="336.09" r="2.2" fill="#1fae3a"/>
<circle cx="502.55" cy="344.15" r="2.2" fill="#1fae3a"/>
<circle cx="523.02" cy="376.72" r="2.2" fill="#1fae3a"/>
<polyline points="338.74,391.58 359.21,392.29 379.69,389.25 400.17,381.91 420.64,365.98 441.12,344.33 461.6,319.45 482.07,300.3 502.55,305.67 523.02,357.75" fill="none" stroke="#1a7cc6" stroke-width="1.0" stroke-linejoin="round"/>
<circle cx="338.74" cy="391.58" r="2.2" fill="#1a7cc6"/>
<circle cx="359.21" cy="392.29" r="2.2" fill="#1a7cc6"/>
<circle cx="379.69" cy="389.25" r="2.2" fill="#1a7cc6"/>
<circle cx="400.17" cy="381.91" r="2.2" fill="#1a7cc6"/>
<circle cx="420.64" cy="365.98" r="2.2" fill="#1a7cc6"/>
<circle cx="441.12" cy="344.33" r="2.2" fill="#1a7cc6"/>
<circle cx="461.6" cy="319.45" r="2.2" fill="#1a7cc6"/>
<circle cx="482.07" cy="300.3" r="2.2" fill="#1a7cc6"/>
<circle cx="502.55" cy="305.67" r="2.2" fill="#1a7cc6"/>
<circle cx="523.02" cy="357.75" r="2.2" fill="#1a7cc6"/>
</g>
<text transform="translate(135.9 57.9) scale(0.97 1)" font-size="11.0" fill="#f42a4e" stroke="#f42a4e">Ag</text>
<text transform="translate(162.3 72.8) scale(0.97 1)" font-size="11.0" fill="#f7a3bf" stroke="#f7a3bf">Cu</text>
<text transform="translate(125.5 101.3) scale(0.97 1)" font-size="11.0" fill="#c8102e" stroke="#c8102e">Au</text>
<text transform="translate(183.3 89.7) scale(0.97 1)" font-size="11.0" fill="#f8bf8c" stroke="#f8bf8c">Cr</text>
<text transform="translate(157.9 119.8) scale(0.97 1)" font-size="11.0" fill="#b3b6ee" stroke="#b3b6ee">V</text>
<text transform="translate(164.1 138.8) scale(0.97 1)" font-size="11.0" fill="#9adc8e" stroke="#9adc8e">Ti</text>
<text transform="translate(197.7 136.2) scale(0.97 1)" font-size="11.0" fill="#1fc062" stroke="#1fc062">Zr</text>
<text transform="translate(143.3 168.5) scale(0.97 1)" font-size="11.0" fill="#d4762c" stroke="#d4762c">W</text>
<text transform="translate(240.9 151.2) scale(0.97 1)" font-size="11.0" fill="#8a40c2" stroke="#8a40c2">Nb</text>
<text transform="translate(240.5 161.4) scale(0.97 1)" font-size="11.0" fill="#f7922c" stroke="#f7922c">Mo</text>
<text transform="translate(241.1 171.6) scale(0.97 1)" font-size="11.0" fill="#16893d" stroke="#16893d">Hf</text>
<text transform="translate(241.9 182.6) scale(0.97 1)" font-size="11.0" fill="#44539a" stroke="#44539a">Ta</text>
<text transform="translate(465.7 28.9) scale(0.97 1)" font-size="11.0" fill="#a3e08c" stroke="#a3e08c">B</text>
<text transform="translate(436.1 60.3) scale(0.97 1)" font-size="11.0" fill="#1fae3a" stroke="#1fae3a">Al</text>
<text transform="translate(469.1 53.9) scale(0.97 1)" font-size="11.0" fill="#a5d8f2" stroke="#a5d8f2">C</text>
<text transform="translate(483.7 73.3) scale(0.97 1)" font-size="11.0" fill="#1a7cc6" stroke="#1a7cc6">Si</text>
<text transform="translate(209.9 247.7) scale(0.97 1)" font-size="11.0" fill="#9adc8e" stroke="#9adc8e">Ti</text>
<text transform="translate(201.3 269.1) scale(0.97 1)" font-size="11.0" fill="#b3b6ee" stroke="#b3b6ee">V</text>
<text transform="translate(202.9 299.7) scale(0.97 1)" font-size="11.0" fill="#f8bf8c" stroke="#f8bf8c">Cr</text>
<text transform="translate(201.8 312.7) scale(0.97 1)" font-size="11.0" fill="#1fc062" stroke="#1fc062">Zr</text>
<text transform="translate(201.7 331.2) scale(0.97 1)" font-size="11.0" fill="#8a40c2" stroke="#8a40c2">Nb</text>
<text transform="translate(201 342.9) scale(0.97 1)" font-size="11.0" fill="#16893d" stroke="#16893d">Hf</text>
<text transform="translate(144.3 360.1) scale(0.97 1)" font-size="11.0" fill="#a55e28" stroke="#a55e28">W</text>
<text transform="translate(178.6 362.3) scale(0.97 1)" font-size="11.0" fill="#c8102e" stroke="#c8102e">Au</text>
<text transform="translate(239.7 369.3) scale(0.97 1)" font-size="11.0" fill="#f7922c" stroke="#f7922c">Mo</text>
<text transform="translate(239.7 377.9) scale(0.97 1)" font-size="11.0" fill="#f7a3bf" stroke="#f7a3bf">Cu</text>
<text transform="translate(240.1 387.3) scale(0.97 1)" font-size="11.0" fill="#f42a4e" stroke="#f42a4e">Ag</text>
<text transform="translate(241.6 397.3) scale(0.97 1)" font-size="11.0" fill="#44539a" stroke="#44539a">Ta</text>
<text transform="translate(461.1 259.6) scale(0.97 1)" font-size="11.0" fill="#a5d8f2" stroke="#a5d8f2">C</text>
<text transform="translate(485.3 270.3) scale(0.97 1)" font-size="11.0" fill="#a3e08c" stroke="#a3e08c">B</text>
<text transform="translate(492.5 300.3) scale(0.97 1)" font-size="11.0" fill="#1a7cc6" stroke="#1a7cc6">Si</text>
<text transform="translate(485.3 351.7) scale(0.97 1)" font-size="11.0" fill="#1fae3a" stroke="#1fae3a">Al</text>
<rect x="42" y="9.5" width="215" height="174.5" fill="none" stroke="#424242" stroke-width="1.3"/>
<rect x="328.5" y="9.5" width="215" height="174.5" fill="none" stroke="#424242" stroke-width="1.3"/>
<rect x="42" y="230.5" width="215" height="174.5" fill="none" stroke="#424242" stroke-width="1.3"/>
<rect x="328.5" y="230.5" width="215" height="174.5" fill="none" stroke="#424242" stroke-width="1.3"/>
<path d="M52.24 184v-3.2M52.24 9.5v3.2M72.71 184v-3.2M72.71 9.5v3.2M93.19 184v-3.2M93.19 9.5v3.2M113.67 184v-3.2M113.67 9.5v3.2M134.14 184v-3.2M134.14 9.5v3.2M154.62 184v-3.2M154.62 9.5v3.2M175.1 184v-3.2M175.1 9.5v3.2M195.57 184v-3.2M195.57 9.5v3.2M216.05 184v-3.2M216.05 9.5v3.2M236.52 184v-3.2M236.52 9.5v3.2M42 184h3.2M257 184h-3.2M42 164.61h3.2M257 164.61h-3.2M42 145.22h3.2M257 145.22h-3.2M42 125.83h3.2M257 125.83h-3.2M42 106.44h3.2M257 106.44h-3.2M42 87.06h3.2M257 87.06h-3.2M42 67.67h3.2M257 67.67h-3.2M42 48.28h3.2M257 48.28h-3.2M42 28.89h3.2M257 28.89h-3.2M42 9.5h3.2M257 9.5h-3.2M42 174.31h1.9M257 174.31h-1.9M42 154.92h1.9M257 154.92h-1.9M42 135.53h1.9M257 135.53h-1.9M42 116.14h1.9M257 116.14h-1.9M42 96.75h1.9M257 96.75h-1.9M42 77.36h1.9M257 77.36h-1.9M42 57.97h1.9M257 57.97h-1.9M42 38.58h1.9M257 38.58h-1.9M42 19.19h1.9M257 19.19h-1.9" stroke="#262626" stroke-width="1.1" fill="none"/>
<text x="38.4" y="187.3" font-size="11.8" fill="#1c1c1c" stroke="#1c1c1c" text-anchor="end">0.0</text>
<text x="38.4" y="167.91" font-size="11.8" fill="#1c1c1c" stroke="#1c1c1c" text-anchor="end">0.5</text>
<text x="38.4" y="148.52" font-size="11.8" fill="#1c1c1c" stroke="#1c1c1c" text-anchor="end">1.0</text>
<text x="38.4" y="129.13" font-size="11.8" fill="#1c1c1c" stroke="#1c1c1c" text-anchor="end">1.5</text>
<text x="38.4" y="109.74" font-size="11.8" fill="#1c1c1c" stroke="#1c1c1c" text-anchor="end">2.0</text>
<text x="38.4" y="90.36" font-size="11.8" fill="#1c1c1c" stroke="#1c1c1c" text-anchor="end">2.5</text>
<text x="38.4" y="70.97" font-size="11.8" fill="#1c1c1c" stroke="#1c1c1c" text-anchor="end">3.0</text>
<text x="38.4" y="51.58" font-size="11.8" fill="#1c1c1c" stroke="#1c1c1c" text-anchor="end">3.5</text>
<text x="38.4" y="32.19" font-size="11.8" fill="#1c1c1c" stroke="#1c1c1c" text-anchor="end">4.0</text>
<text x="38.4" y="12.8" font-size="11.8" fill="#1c1c1c" stroke="#1c1c1c" text-anchor="end">4.5</text>
<text x="52.04" y="196.4" font-size="11.8" fill="#1c1c1c" stroke="#1c1c1c" text-anchor="middle">0°</text>
<text x="72.51" y="196.4" font-size="11.8" fill="#1c1c1c" stroke="#1c1c1c" text-anchor="middle">10°</text>
<text x="92.99" y="196.4" font-size="11.8" fill="#1c1c1c" stroke="#1c1c1c" text-anchor="middle">20°</text>
<text x="113.47" y="196.4" font-size="11.8" fill="#1c1c1c" stroke="#1c1c1c" text-anchor="middle">30°</text>
<text x="133.94" y="196.4" font-size="11.8" fill="#1c1c1c" stroke="#1c1c1c" text-anchor="middle">40°</text>
<text x="154.42" y="196.4" font-size="11.8" fill="#1c1c1c" stroke="#1c1c1c" text-anchor="middle">50°</text>
<text x="174.9" y="196.4" font-size="11.8" fill="#1c1c1c" stroke="#1c1c1c" text-anchor="middle">60°</text>
<text x="195.37" y="196.4" font-size="11.8" fill="#1c1c1c" stroke="#1c1c1c" text-anchor="middle">70°</text>
<text x="215.85" y="196.4" font-size="11.8" fill="#1c1c1c" stroke="#1c1c1c" text-anchor="middle">80°</text>
<text x="236.32" y="196.4" font-size="11.8" fill="#1c1c1c" stroke="#1c1c1c" text-anchor="middle">90°</text>
<text x="149.5" y="214.9" font-size="11.55" fill="#1c1c1c" stroke="#1c1c1c" text-anchor="middle">incidence angle</text>
<text x="0" y="0" font-size="11.55" fill="#1c1c1c" stroke="#1c1c1c" text-anchor="middle" transform="translate(18 96.75) rotate(-90)">Y [atoms/ion]</text>
<text x="49.6" y="25.5" font-size="11.8" fill="#1c1c1c" stroke="#1c1c1c" text-anchor="start">(a)</text>
<path d="M338.74 184v-3.2M338.74 9.5v3.2M359.21 184v-3.2M359.21 9.5v3.2M379.69 184v-3.2M379.69 9.5v3.2M400.17 184v-3.2M400.17 9.5v3.2M420.64 184v-3.2M420.64 9.5v3.2M441.12 184v-3.2M441.12 9.5v3.2M461.6 184v-3.2M461.6 9.5v3.2M482.07 184v-3.2M482.07 9.5v3.2M502.55 184v-3.2M502.55 9.5v3.2M523.02 184v-3.2M523.02 9.5v3.2M328.5 184h3.2M543.5 184h-3.2M328.5 164.61h3.2M543.5 164.61h-3.2M328.5 145.22h3.2M543.5 145.22h-3.2M328.5 125.83h3.2M543.5 125.83h-3.2M328.5 106.44h3.2M543.5 106.44h-3.2M328.5 87.06h3.2M543.5 87.06h-3.2M328.5 67.67h3.2M543.5 67.67h-3.2M328.5 48.28h3.2M543.5 48.28h-3.2M328.5 28.89h3.2M543.5 28.89h-3.2M328.5 9.5h3.2M543.5 9.5h-3.2M328.5 174.31h1.9M543.5 174.31h-1.9M328.5 154.92h1.9M543.5 154.92h-1.9M328.5 135.53h1.9M543.5 135.53h-1.9M328.5 116.14h1.9M543.5 116.14h-1.9M328.5 96.75h1.9M543.5 96.75h-1.9M328.5 77.36h1.9M543.5 77.36h-1.9M328.5 57.97h1.9M543.5 57.97h-1.9M328.5 38.58h1.9M543.5 38.58h-1.9M328.5 19.19h1.9M543.5 19.19h-1.9" stroke="#262626" stroke-width="1.1" fill="none"/>
<text x="324.9" y="187.3" font-size="11.8" fill="#1c1c1c" stroke="#1c1c1c" text-anchor="end">0.0</text>
<text x="324.9" y="167.91" font-size="11.8" fill="#1c1c1c" stroke="#1c1c1c" text-anchor="end">0.5</text>
<text x="324.9" y="148.52" font-size="11.8" fill="#1c1c1c" stroke="#1c1c1c" text-anchor="end">1.0</text>
<text x="324.9" y="129.13" font-size="11.8" fill="#1c1c1c" stroke="#1c1c1c" text-anchor="end">1.5</text>
<text x="324.9" y="109.74" font-size="11.8" fill="#1c1c1c" stroke="#1c1c1c" text-anchor="end">2.0</text>
<text x="324.9" y="90.36" font-size="11.8" fill="#1c1c1c" stroke="#1c1c1c" text-anchor="end">2.5</text>
<text x="324.9" y="70.97" font-size="11.8" fill="#1c1c1c" stroke="#1c1c1c" text-anchor="end">3.0</text>
<text x="324.9" y="51.58" font-size="11.8" fill="#1c1c1c" stroke="#1c1c1c" text-anchor="end">3.5</text>
<text x="324.9" y="32.19" font-size="11.8" fill="#1c1c1c" stroke="#1c1c1c" text-anchor="end">4.0</text>
<text x="324.9" y="12.8" font-size="11.8" fill="#1c1c1c" stroke="#1c1c1c" text-anchor="end">4.5</text>
<text x="338.54" y="196.4" font-size="11.8" fill="#1c1c1c" stroke="#1c1c1c" text-anchor="middle">0°</text>
<text x="359.01" y="196.4" font-size="11.8" fill="#1c1c1c" stroke="#1c1c1c" text-anchor="middle">10°</text>
<text x="379.49" y="196.4" font-size="11.8" fill="#1c1c1c" stroke="#1c1c1c" text-anchor="middle">20°</text>
<text x="399.97" y="196.4" font-size="11.8" fill="#1c1c1c" stroke="#1c1c1c" text-anchor="middle">30°</text>
<text x="420.44" y="196.4" font-size="11.8" fill="#1c1c1c" stroke="#1c1c1c" text-anchor="middle">40°</text>
<text x="440.92" y="196.4" font-size="11.8" fill="#1c1c1c" stroke="#1c1c1c" text-anchor="middle">50°</text>
<text x="461.4" y="196.4" font-size="11.8" fill="#1c1c1c" stroke="#1c1c1c" text-anchor="middle">60°</text>
<text x="481.87" y="196.4" font-size="11.8" fill="#1c1c1c" stroke="#1c1c1c" text-anchor="middle">70°</text>
<text x="502.35" y="196.4" font-size="11.8" fill="#1c1c1c" stroke="#1c1c1c" text-anchor="middle">80°</text>
<text x="522.82" y="196.4" font-size="11.8" fill="#1c1c1c" stroke="#1c1c1c" text-anchor="middle">90°</text>
<text x="436" y="214.9" font-size="11.55" fill="#1c1c1c" stroke="#1c1c1c" text-anchor="middle">incidence angle</text>
<text x="0" y="0" font-size="11.55" fill="#1c1c1c" stroke="#1c1c1c" text-anchor="middle" transform="translate(301.8 96.75) rotate(-90)">Y [atoms/ion]</text>
<text x="336.4" y="25.5" font-size="11.8" fill="#1c1c1c" stroke="#1c1c1c" text-anchor="start">(b)</text>
<path d="M52.24 405v-3.2M52.24 230.5v3.2M72.71 405v-3.2M72.71 230.5v3.2M93.19 405v-3.2M93.19 230.5v3.2M113.67 405v-3.2M113.67 230.5v3.2M134.14 405v-3.2M134.14 230.5v3.2M154.62 405v-3.2M154.62 230.5v3.2M175.1 405v-3.2M175.1 230.5v3.2M195.57 405v-3.2M195.57 230.5v3.2M216.05 405v-3.2M216.05 230.5v3.2M236.52 405v-3.2M236.52 230.5v3.2M42 387.55h3.2M257 387.55h-3.2M42 352.65h3.2M257 352.65h-3.2M42 317.75h3.2M257 317.75h-3.2M42 282.85h3.2M257 282.85h-3.2M42 247.95h3.2M257 247.95h-3.2M42 405h1.9M257 405h-1.9M42 370.1h1.9M257 370.1h-1.9M42 335.2h1.9M257 335.2h-1.9M42 300.3h1.9M257 300.3h-1.9M42 265.4h1.9M257 265.4h-1.9" stroke="#262626" stroke-width="1.1" fill="none"/>
<text x="38.4" y="390.85" font-size="11.8" fill="#1c1c1c" stroke="#1c1c1c" text-anchor="end">0.5</text>
<text x="38.4" y="355.95" font-size="11.8" fill="#1c1c1c" stroke="#1c1c1c" text-anchor="end">1.0</text>
<text x="38.4" y="321.05" font-size="11.8" fill="#1c1c1c" stroke="#1c1c1c" text-anchor="end">1.5</text>
<text x="38.4" y="286.15" font-size="11.8" fill="#1c1c1c" stroke="#1c1c1c" text-anchor="end">2.0</text>
<text x="38.4" y="251.25" font-size="11.8" fill="#1c1c1c" stroke="#1c1c1c" text-anchor="end">2.5</text>
<text x="52.04" y="417.4" font-size="11.8" fill="#1c1c1c" stroke="#1c1c1c" text-anchor="middle">0°</text>
<text x="72.51" y="417.4" font-size="11.8" fill="#1c1c1c" stroke="#1c1c1c" text-anchor="middle">10°</text>
<text x="92.99" y="417.4" font-size="11.8" fill="#1c1c1c" stroke="#1c1c1c" text-anchor="middle">20°</text>
<text x="113.47" y="417.4" font-size="11.8" fill="#1c1c1c" stroke="#1c1c1c" text-anchor="middle">30°</text>
<text x="133.94" y="417.4" font-size="11.8" fill="#1c1c1c" stroke="#1c1c1c" text-anchor="middle">40°</text>
<text x="154.42" y="417.4" font-size="11.8" fill="#1c1c1c" stroke="#1c1c1c" text-anchor="middle">50°</text>
<text x="174.9" y="417.4" font-size="11.8" fill="#1c1c1c" stroke="#1c1c1c" text-anchor="middle">60°</text>
<text x="195.37" y="417.4" font-size="11.8" fill="#1c1c1c" stroke="#1c1c1c" text-anchor="middle">70°</text>
<text x="215.85" y="417.4" font-size="11.8" fill="#1c1c1c" stroke="#1c1c1c" text-anchor="middle">80°</text>
<text x="236.32" y="417.4" font-size="11.8" fill="#1c1c1c" stroke="#1c1c1c" text-anchor="middle">90°</text>
<text x="149.5" y="436.5" font-size="12.35" fill="#1c1c1c" stroke="#1c1c1c" text-anchor="middle">incidence angle</text>
<text x="0" y="0" font-size="11.55" fill="#1c1c1c" stroke="#1c1c1c" text-anchor="middle" transform="translate(17 317.75) rotate(-90)">Y/Y(0°)</text>
<text x="48.8" y="247" font-size="11.8" fill="#1c1c1c" stroke="#1c1c1c" text-anchor="start">(c)</text>
<path d="M338.74 405v-3.2M338.74 230.5v3.2M359.21 405v-3.2M359.21 230.5v3.2M379.69 405v-3.2M379.69 230.5v3.2M400.17 405v-3.2M400.17 230.5v3.2M420.64 405v-3.2M420.64 230.5v3.2M441.12 405v-3.2M441.12 230.5v3.2M461.6 405v-3.2M461.6 230.5v3.2M482.07 405v-3.2M482.07 230.5v3.2M502.55 405v-3.2M502.55 230.5v3.2M523.02 405v-3.2M523.02 230.5v3.2M328.5 373.68h3.2M543.5 373.68h-3.2M328.5 337.88h3.2M543.5 337.88h-3.2M328.5 302.09h3.2M543.5 302.09h-3.2M328.5 266.29h3.2M543.5 266.29h-3.2M328.5 230.5h3.2M543.5 230.5h-3.2M328.5 391.58h1.9M543.5 391.58h-1.9M328.5 355.78h1.9M543.5 355.78h-1.9M328.5 319.99h1.9M543.5 319.99h-1.9M328.5 284.19h1.9M543.5 284.19h-1.9M328.5 248.4h1.9M543.5 248.4h-1.9" stroke="#262626" stroke-width="1.1" fill="none"/>
<text x="324.9" y="376.98" font-size="11.8" fill="#1c1c1c" stroke="#1c1c1c" text-anchor="end">2.0</text>
<text x="324.9" y="341.18" font-size="11.8" fill="#1c1c1c" stroke="#1c1c1c" text-anchor="end">4.0</text>
<text x="324.9" y="305.39" font-size="11.8" fill="#1c1c1c" stroke="#1c1c1c" text-anchor="end">6.0</text>
<text x="324.9" y="269.59" font-size="11.8" fill="#1c1c1c" stroke="#1c1c1c" text-anchor="end">8.0</text>
<text x="324.9" y="233.8" font-size="11.8" fill="#1c1c1c" stroke="#1c1c1c" text-anchor="end">10.0</text>
<text x="338.54" y="417.4" font-size="11.8" fill="#1c1c1c" stroke="#1c1c1c" text-anchor="middle">0°</text>
<text x="359.01" y="417.4" font-size="11.8" fill="#1c1c1c" stroke="#1c1c1c" text-anchor="middle">10°</text>
<text x="379.49" y="417.4" font-size="11.8" fill="#1c1c1c" stroke="#1c1c1c" text-anchor="middle">20°</text>
<text x="399.97" y="417.4" font-size="11.8" fill="#1c1c1c" stroke="#1c1c1c" text-anchor="middle">30°</text>
<text x="420.44" y="417.4" font-size="11.8" fill="#1c1c1c" stroke="#1c1c1c" text-anchor="middle">40°</text>
<text x="440.92" y="417.4" font-size="11.8" fill="#1c1c1c" stroke="#1c1c1c" text-anchor="middle">50°</text>
<text x="461.4" y="417.4" font-size="11.8" fill="#1c1c1c" stroke="#1c1c1c" text-anchor="middle">60°</text>
<text x="481.87" y="417.4" font-size="11.8" fill="#1c1c1c" stroke="#1c1c1c" text-anchor="middle">70°</text>
<text x="502.35" y="417.4" font-size="11.8" fill="#1c1c1c" stroke="#1c1c1c" text-anchor="middle">80°</text>
<text x="522.82" y="417.4" font-size="11.8" fill="#1c1c1c" stroke="#1c1c1c" text-anchor="middle">90°</text>
<text x="436" y="436.5" font-size="12.35" fill="#1c1c1c" stroke="#1c1c1c" text-anchor="middle">incidence angle</text>
<text x="0" y="0" font-size="11.55" fill="#1c1c1c" stroke="#1c1c1c" text-anchor="middle" transform="translate(302 317.75) rotate(-90)">Y/Y(0°)</text>
<text x="334.8" y="246.4" font-size="11.8" fill="#1c1c1c" stroke="#1c1c1c" text-anchor="start">(d)</text></svg>
</body></html>
